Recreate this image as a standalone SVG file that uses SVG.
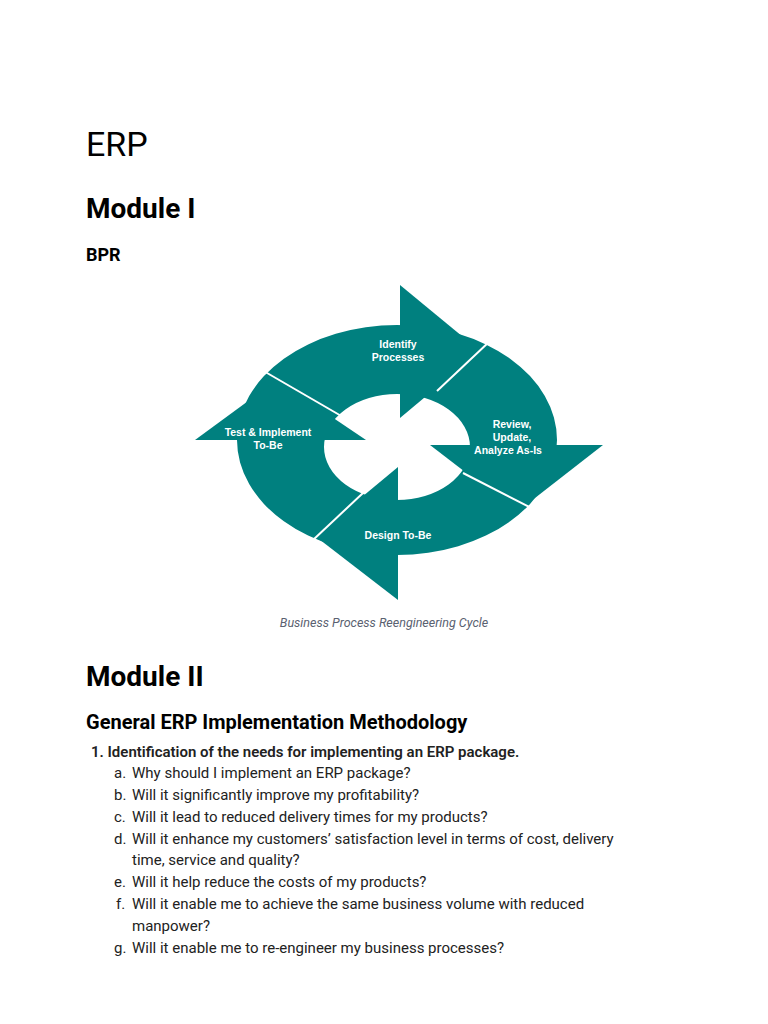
<svg xmlns="http://www.w3.org/2000/svg" width="768" height="1024" viewBox="0 0 768 1024">
<style>
text{font-family:Roboto,"Liberation Sans",sans-serif;fill:#000}
.h{font-weight:bold}
.l{font-size:15px;fill:#222}
.d{font-family:"Liberation Sans",Arial,sans-serif;font-weight:bold;font-size:10.5px;fill:#fff;text-anchor:middle}
.t{fill:#00807f}
.sep{stroke:#fff;stroke-width:2}
</style>
<rect width="768" height="1024" fill="#fff"/>
<text x="86" y="156" font-size="34">ERP</text>
<text x="86" y="218" font-size="28" class="h">Module I</text>
<text x="86" y="261" font-size="18" class="h">BPR</text>
<g id="cycle">
<path class="t" fill-rule="evenodd" d="M237,440 a160,115 0 1,0 320,0 a160,115 0 1,0 -320,0 Z M324,447 a73,53 0 1,0 146,0 a73,53 0 1,0 -146,0 Z"/>
<polygon class="t" points="400,285 480,351 400,418"/>
<polygon class="t" points="430,445 603,445 517,512"/>
<polygon class="t" points="398,467 398,600 315,536"/>
<polygon class="t" points="195,440 366,440 277,380"/>
<line class="sep" x1="255" y1="366" x2="343" y2="417"/>
<line class="sep" x1="437" y1="391" x2="490" y2="341"/>
<line class="sep" x1="463" y1="473" x2="545" y2="515"/>
<line class="sep" x1="313" y1="540" x2="363" y2="493"/>
</g>
<g id="n1"><text class="d" x="398" y="348">Identify</text><text class="d" x="398" y="361">Processes</text></g>
<g id="n2"><text class="d" x="512" y="428">Review,</text><text class="d" x="512" y="441">Update,</text><text class="d" x="508" y="454">Analyze As-Is</text></g>
<g id="n3"><text class="d" x="398" y="539">Design To-Be</text></g>
<g id="n4"><text class="d" x="268" y="436">Test &amp; Implement</text><text class="d" x="268" y="449">To-Be</text></g>
<g id="connectors"/>
<text x="384" y="627" font-size="12.5" font-style="italic" fill="#555" text-anchor="middle" style="fill:#5a6170">Business Process Reengineering Cycle</text>
<text x="86" y="686" font-size="28" class="h">Module II</text>
<text x="86" y="729" font-size="20" class="h">General ERP Implementation Methodology</text>
<text x="91" y="757" class="l h" style="font-weight:600">1.  Identification of the needs for implementing an ERP package.</text>
<g class="l">
<text x="114" y="778" class="l">a.</text><text x="132" y="778" class="l">Why should I implement an ERP package?</text>
<text x="114" y="800" class="l">b.</text><text x="132" y="800" class="l">Will it significantly improve my profitability?</text>
<text x="114" y="822" class="l">c.</text><text x="132" y="822" class="l">Will it lead to reduced delivery times for my products?</text>
<text x="114" y="844" class="l">d.</text><text x="132" y="844" class="l">Will it enhance my customers’ satisfaction level in terms of cost, delivery</text>
<text x="132" y="865" class="l">time, service and quality?</text>
<text x="114" y="887" class="l">e.</text><text x="132" y="887" class="l">Will it help reduce the costs of my products?</text>
<text x="116" y="909" class="l">f.</text><text x="132" y="909" class="l">Will it enable me to achieve the same business volume with reduced</text>
<text x="132" y="931" class="l">manpower?</text>
<text x="114" y="953" class="l">g.</text><text x="132" y="953" class="l">Will it enable me to re-engineer my business processes?</text>
</g>
</svg>
